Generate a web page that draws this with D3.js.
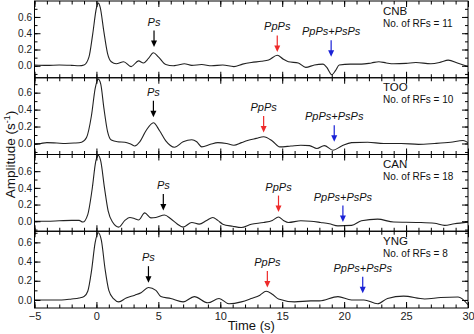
<!DOCTYPE html>
<html>
<head>
<meta charset="utf-8">
<script src="https://cdn.jsdelivr.net/npm/d3@7/dist/d3.min.js"></script>
<style>
  html, body { margin: 0; padding: 0; background: #fff; }
  svg { display: block; font-family: "Liberation Sans", Arial, sans-serif; }
</style>
</head>
<body>
<svg id="chart" width="474" height="334"></svg>
<script>
// ---------------- DATA ----------------
const stations = ["CNB", "TOO", "CAN", "YNG"];
const rfCounts = [11, 10, 18, 8];
const xTickLabels = [-5, 0, 5, 10, 15, 20, 25, 30];
const yTickLabels = [0.0, 0.2, 0.4, 0.6];
const yRanges = [[-0.147, 0.796], [-0.13, 0.776], [-0.12, 0.80], [-0.084, 0.716]];

const cnbTrace = [[-5,0.01],[-4,0.005],[-3,0.01],[-2,0.005],[-1.4,0.0],[-1.0,0.01],[-0.6,0.11],[-0.3,0.39],[0,0.71],[0.15,0.77],[0.3,0.72],[0.6,0.42],[0.9,0.15],[1.2,0.05],[1.6,0.025],[2.2,0.05],[2.8,-0.01],[3.4,0.06],[3.8,0.035],[4.2,0.09],[4.6,0.16],[5.0,0.11],[5.6,0.015],[6.2,0.0],[6.6,0.01],[7.1,0.025],[7.7,0.005],[8.5,0.015],[9.3,0.0],[10.2,0.01],[11.1,-0.01],[11.8,0.02],[12.5,0.04],[13.3,0.055],[13.9,0.07],[14.6,0.13],[15.1,0.08],[15.5,0.05],[16.3,0.035],[16.9,-0.02],[17.6,0.01],[18.3,0.02],[18.6,-0.02],[19.0,-0.11],[19.3,-0.06],[19.6,0.01],[20.5,0.02],[21.4,0.02],[22.2,0.035],[22.8,0.05],[23.4,0.035],[24,0.025],[25,0.03],[25.8,0.04],[27,0.025],[27.8,0.045],[28.4,0.07],[29.2,0.03],[30,-0.01]];

const tooTrace = [[-5,-0.01],[-4.5,0.0],[-4,0.01],[-3.2,0.005],[-2.5,0.0],[-1.8,0.005],[-1.2,0.015],[-0.8,0.07],[-0.4,0.33],[-0.1,0.65],[0.15,0.76],[0.35,0.70],[0.6,0.42],[0.9,0.14],[1.2,0.04],[1.7,0.02],[2.3,0.015],[2.8,-0.01],[3.1,-0.03],[3.5,0.02],[4.0,0.15],[4.6,0.245],[5.1,0.15],[5.6,0.03],[6.3,-0.045],[7.0,0.02],[7.7,0.045],[8.1,0.02],[8.5,-0.04],[9.2,-0.01],[9.8,0.01],[10.5,0.0],[11.1,-0.02],[11.7,0.01],[12.2,0.035],[12.9,0.06],[13.5,0.08],[14.2,0.03],[14.8,-0.04],[15.7,-0.03],[16.5,-0.02],[17.2,-0.025],[17.8,-0.06],[18.4,-0.025],[19.1,-0.08],[19.8,-0.03],[20.6,0.01],[21.9,0.015],[23.2,0.0],[24.6,0.0],[26,-0.01],[27.3,0.0],[28.6,0.015],[29.6,0.035],[30,0.01]];

const canTrace = [[-5,0.0],[-4,0.0],[-3,0.005],[-2,0.01],[-1.4,0.01],[-1.1,-0.01],[-0.7,0.08],[-0.35,0.38],[-0.05,0.72],[0.15,0.79],[0.35,0.72],[0.65,0.40],[0.95,0.12],[1.3,-0.01],[1.8,-0.07],[2.3,0.01],[2.7,0.045],[3.1,0.03],[3.4,0.015],[3.9,0.1],[4.4,0.04],[4.8,0.045],[5.5,0.075],[6.0,0.03],[6.5,-0.03],[7.0,-0.07],[7.7,-0.015],[8.3,-0.035],[8.9,0.01],[9.4,0.045],[9.8,0.01],[10.2,-0.035],[11.0,-0.06],[11.7,-0.075],[12.5,-0.035],[13.5,-0.015],[14.2,0.01],[14.7,0.05],[15.1,0.01],[15.5,-0.015],[16.5,0.005],[17.3,0.0],[18.1,-0.015],[18.8,-0.03],[19.5,-0.055],[20.6,-0.05],[21.4,0.005],[22.7,0.025],[24,-0.01],[26,-0.015],[27.3,-0.025],[28.1,-0.05],[28.9,-0.03],[30,-0.01]];

const yngTrace = [[-5,0.0],[-4,0.0],[-2.8,0.0],[-2,0.01],[-1.4,0.02],[-1.0,0.035],[-0.7,0.09],[-0.4,0.3],[-0.1,0.6],[0.15,0.70],[0.4,0.62],[0.7,0.32],[1.0,0.1],[1.4,0.01],[1.8,-0.02],[2.4,0.02],[3.1,0.05],[3.6,0.075],[4.2,0.13],[4.8,0.1],[5.2,0.035],[6.0,0.015],[7.0,-0.02],[7.9,0.035],[9.0,-0.03],[9.9,0.015],[10.7,-0.04],[11.7,-0.02],[12.5,0.015],[13.2,0.05],[13.7,0.09],[14.2,0.06],[14.7,0.01],[16.0,-0.02],[17.3,-0.01],[18.0,-0.01],[19.5,0.035],[20.6,0.0],[21.6,0.0],[22.7,-0.04],[23.5,0.015],[24.8,0.04],[26.5,0.01],[27.8,0.025],[29.2,0.03],[30,-0.05]];

const traces = [cnbTrace, tooTrace, canTrace, yngTrace];

// phase arrivals (time) and arrow tip amplitudes
const psTimes    = [4.65, 4.6, 5.4, 4.2];
const psTips     = [0.23, 0.31, 0.13, 0.18];
const ppPsTimes  = [14.6, 13.5, 14.7, 13.8];
const ppPsTips   = [0.17, 0.13, 0.11, 0.13];
const multTimes  = [18.95, 19.2, 19.9, 21.5];
const multTips   = [0.11, 0.02, -0.01, 0.07];
const phaseNames = ["Ps", "PpPs", "PpPs+PsPs"];
const phaseColors = ["#000000", "#ee2a2a", "#1a22d6"];

// ---------------- LAYOUT ----------------
const svg = d3.select("#chart");
const left = 34.5, right = 468;
const top0 = 1, panelH = 76.75;
const x = d3.scaleLinear().domain([-5, 30]).range([left, right]);

const defs = svg.append("defs");

stations.forEach((st, i) => {
  const pt = top0 + i * panelH, pb = pt + panelH;
  const y = d3.scaleLinear().domain(yRanges[i]).range([pb, pt]);
  const g = svg.append("g");

  defs.append("clipPath").attr("id", "clip" + i)
    .append("rect").attr("x", left).attr("y", pt).attr("width", right - left).attr("height", panelH);

  // trace
  const line = d3.line().x(d => x(d[0])).y(d => y(d[1])).curve(d3.curveMonotoneX);
  g.append("path").datum(traces[i])
    .attr("clip-path", "url(#clip" + i + ")")
    .attr("d", line).attr("fill", "none").attr("stroke", "#222").attr("stroke-width", 1.1);

  // axes with inward ticks
  const minorX = d3.range(-5, 31, 1);
  const minorY = d3.range(-0.1, 0.75, 0.1).filter(v => v >= yRanges[i][0] && v <= yRanges[i][1]);

  const addAxis = (axis, transform) => {
    const a = g.append("g").attr("transform", transform).call(axis);
    a.select(".domain").remove();
    a.selectAll("line").attr("stroke", "#000").attr("stroke-width", 1);
    return a;
  };
  addAxis(d3.axisBottom(x).tickValues(minorX).tickSize(-3.5).tickFormat(""), `translate(0,${pb})`);
  addAxis(d3.axisTop(x).tickValues(minorX).tickSize(-3.5).tickFormat(""), `translate(0,${pt})`);
  addAxis(d3.axisBottom(x).tickValues(xTickLabels).tickSize(-6).tickFormat(""), `translate(0,${pb})`);
  addAxis(d3.axisTop(x).tickValues(xTickLabels).tickSize(-6).tickFormat(""), `translate(0,${pt})`);
  addAxis(d3.axisLeft(y).tickValues(minorY).tickSize(-3).tickFormat(""), `translate(${left},0)`);
  addAxis(d3.axisRight(y).tickValues(minorY).tickSize(-3).tickFormat(""), `translate(${right},0)`);
  const yl = addAxis(d3.axisLeft(y).tickValues(yTickLabels).tickSize(-6).tickPadding(2.5).tickFormat(d3.format(".1f")), `translate(${left},0)`);
  yl.selectAll("text").attr("font-size", 10).attr("fill", "#222").attr("font-family", null);
  addAxis(d3.axisRight(y).tickValues(yTickLabels).tickSize(-6).tickFormat(""), `translate(${right},0)`);

  if (i === stations.length - 1) {
    const xl = addAxis(d3.axisBottom(x).tickValues(xTickLabels).tickSize(0).tickPadding(4).tickFormat(d3.format("d")), `translate(0,${pb})`);
    xl.selectAll("text").attr("font-size", 11).attr("fill", "#222").attr("font-family", null);
  }

  // box
  g.append("rect").attr("x", left).attr("y", pt).attr("width", right - left).attr("height", panelH)
    .attr("fill", "none").attr("stroke", "#000").attr("stroke-width", 1);

  // station labels
  g.append("text").attr("x", 383).attr("y", pt + 13.5).attr("font-size", 11.5).attr("fill", "#111").text(st);
  g.append("text").attr("x", 383).attr("y", pt + 25.5).attr("font-size", 10).attr("fill", "#111")
    .text("No. of RFs = " + rfCounts[i]);

  // phase arrows
  const phases = [[psTimes[i], psTips[i]], [ppPsTimes[i], ppPsTips[i]], [multTimes[i], multTips[i]]];
  phases.forEach((p, k) => {
    const px = x(p[0]), tip = y(p[1]);
    const col = phaseColors[k];
    g.append("line").attr("x1", px).attr("x2", px).attr("y1", tip - 16.5).attr("y2", tip - 4)
      .attr("stroke", col).attr("stroke-width", 1.2);
    g.append("path").attr("d", `M${px},${tip} L${px - 3},${tip - 6.5} L${px + 3},${tip - 6.5} Z`).attr("fill", col);
    g.append("text").attr("x", px).attr("y", tip - 21.5).attr("text-anchor", "middle")
      .attr("font-size", 11).attr("font-style", "italic").attr("fill", "#111").text(phaseNames[k]);
  });
});

// axis titles
svg.append("text").attr("x", (left + right) / 2).attr("y", 330).attr("text-anchor", "middle")
  .attr("font-size", 13).attr("fill", "#111").text("Time (s)");
const yt = svg.append("text").attr("transform", `translate(15,${top0 + 2 * panelH}) rotate(-90)`)
  .attr("text-anchor", "middle").attr("font-size", 13.5).attr("fill", "#111");
yt.append("tspan").text("Amplitude (s");
yt.append("tspan").attr("dy", -5).attr("font-size", 9).text("-1");
yt.append("tspan").attr("dy", 5).text(")");
</script>
</body>
</html>
